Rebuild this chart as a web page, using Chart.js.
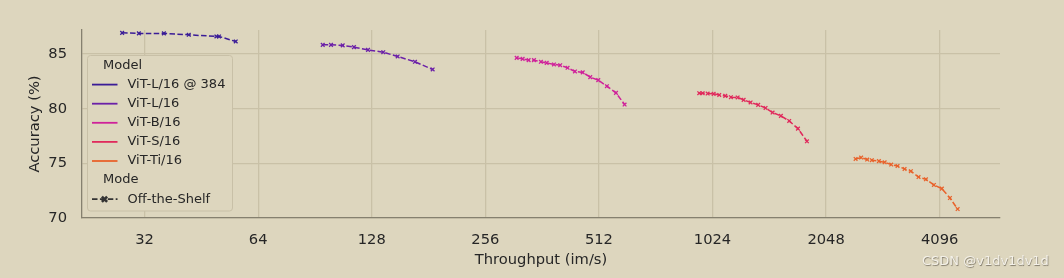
<!DOCTYPE html>
<html>
<head>
<meta charset="utf-8">
<script src="https://cdn.jsdelivr.net/npm/chart.js@4.4.1/dist/chart.umd.min.js"></script>
<style>
html,body{margin:0;padding:0;background:#ddd6be;}
#wrap{position:relative;width:1064px;height:278px;}
canvas{display:block;}
</style>
</head>
<body>
<div id="wrap"><canvas id="c" width="1064" height="278"></canvas></div>
<script>
// ---- data ----
const modelNames = ["ViT-L/16 @ 384", "ViT-L/16", "ViT-B/16", "ViT-S/16", "ViT-Ti/16"];
const modelColors = ["#3a1c97", "#6b20a8", "#cf219a", "#e02a5c", "#e8622b"];
const modeNames = ["Off-the-Shelf"];

const l384Throughput = [27.9, 30.9, 36.0, 41.9, 49.6, 50.4, 55.8];
const l384Accuracy   = [86.94, 86.89, 86.89, 86.76, 86.61, 86.61, 86.15];

const lThroughput = [94.9, 99.8, 107.2, 114.8, 125.1, 137.3, 149.9, 166.6, 185.6];
const lAccuracy   = [85.84, 85.84, 85.79, 85.63, 85.38, 85.17, 84.78, 84.29, 83.59];

const bThroughput = [309.9, 321.4, 333.4, 344.4, 359.3, 372.2, 389.1, 404.2, 422.8, 442.3, 463.7, 485.5, 509.9, 537.5, 568.1, 598.8];
const bAccuracy   = [84.65, 84.56, 84.44, 84.44, 84.29, 84.19, 84.05, 83.98, 83.74, 83.41, 83.32, 82.89, 82.61, 82.06, 81.45, 80.38];

const sThroughput = [944.3, 964.1, 993.9, 1031, 1066.8, 1106.6, 1145.6, 1193.5, 1238, 1291.7, 1353, 1415.4, 1477.4, 1554.1, 1634.9, 1724.6, 1821.7];
const sAccuracy   = [81.42, 81.42, 81.39, 81.36, 81.26, 81.17, 81.05, 81.03, 80.81, 80.57, 80.35, 80.07, 79.65, 79.34, 78.88, 78.18, 77.02];

const tiThroughput = [2452, 2536, 2631, 2707, 2826, 2927, 3047, 3167, 3306, 3435, 3600, 3766, 3954, 4150, 4360, 4570];
const tiAccuracy   = [75.40, 75.53, 75.35, 75.29, 75.20, 75.10, 74.89, 74.76, 74.49, 74.28, 73.75, 73.54, 73.02, 72.69, 71.83, 70.82];

const xTickValues = [32, 64, 128, 256, 512, 1024, 2048, 4096];
const yTickValues = [70, 75, 80, 85];

// ---- build ----
const seriesX = [l384Throughput, lThroughput, bThroughput, sThroughput, tiThroughput];
const seriesY = [l384Accuracy, lAccuracy, bAccuracy, sAccuracy, tiAccuracy];

const FONT = '"DejaVu Sans", "Liberation Sans", sans-serif';
const TXT = '#262626';
const BG = '#ddd6be';

const datasets = modelNames.map((name, i) => ({
  label: name,
  data: seriesX[i].map((x, j) => ({x: x, y: seriesY[i][j]})),
  borderColor: modelColors[i],
  backgroundColor: modelColors[i],
  borderWidth: 1.5,
  borderDash: [5.5, 2.4],
  pointStyle: 'crossRot',
  pointRadius: 2.6,
  pointBorderWidth: 1.3,
  pointBorderColor: modelColors[i],
  pointBackgroundColor: modelColors[i],
  tension: 0,
  fill: false
}));

const boxLegend = {
  id: 'boxLegend',
  afterDraw(chart) {
    const ctx = chart.ctx;
    ctx.save();
    // frame
    const x0 = 87.5, y0 = 55.5, w = 145, h = 155.5, r = 3;
    ctx.beginPath();
    ctx.moveTo(x0 + r, y0);
    ctx.lineTo(x0 + w - r, y0);
    ctx.quadraticCurveTo(x0 + w, y0, x0 + w, y0 + r);
    ctx.lineTo(x0 + w, y0 + h - r);
    ctx.quadraticCurveTo(x0 + w, y0 + h, x0 + w - r, y0 + h);
    ctx.lineTo(x0 + r, y0 + h);
    ctx.quadraticCurveTo(x0, y0 + h, x0, y0 + h - r);
    ctx.lineTo(x0, y0 + r);
    ctx.quadraticCurveTo(x0, y0, x0 + r, y0);
    ctx.closePath();
    ctx.fillStyle = BG;
    ctx.fill();
    ctx.strokeStyle = '#c8c0a7';
    ctx.lineWidth = 1;
    ctx.stroke();

    ctx.font = '13px ' + FONT;
    ctx.textBaseline = 'middle';
    ctx.textAlign = 'left';
    ctx.fillStyle = TXT;
    const y1 = 65.5, step = 19.1;
    ctx.fillText('Model', 103, y1);
    chart.data.datasets.forEach((ds, i) => {
      const yy = y1 + step * (i + 1);
      ctx.strokeStyle = ds.borderColor;
      ctx.lineWidth = 1.8;
      ctx.setLineDash([]);
      ctx.beginPath();
      ctx.moveTo(92, yy);
      ctx.lineTo(117.5, yy);
      ctx.stroke();
      ctx.fillStyle = TXT;
      ctx.fillText(ds.label, 127.5, yy);
    });
    const yMode = y1 + step * 6;
    ctx.fillText('Mode', 103, yMode);
    const yOff = y1 + step * 7;
    ctx.strokeStyle = '#333333';
    ctx.lineWidth = 1.8;
    ctx.setLineDash([5.5, 2.4]);
    ctx.beginPath();
    ctx.moveTo(92, yOff);
    ctx.lineTo(117.5, yOff);
    ctx.stroke();
    ctx.setLineDash([]);
    // filled X marker
    ctx.lineWidth = 2.6;
    const mx = 104.5, ms = 2.6;
    ctx.beginPath();
    ctx.moveTo(mx - ms, yOff - ms); ctx.lineTo(mx + ms, yOff + ms);
    ctx.moveTo(mx - ms, yOff + ms); ctx.lineTo(mx + ms, yOff - ms);
    ctx.stroke();
    ctx.fillStyle = TXT;
    ctx.fillText(modeNames[0], 127.5, yOff);

    // watermark
    ctx.font = '13px ' + FONT;
    ctx.shadowColor = 'rgba(60,55,45,0.55)';
    ctx.shadowOffsetX = 0.7;
    ctx.shadowOffsetY = 0.7;
    ctx.shadowBlur = 0.8;
    ctx.fillStyle = '#f4f1e9';
    ctx.fillText('CSDN @v1dv1dv1d', 922, 261.5);
    ctx.restore();
  }
};

new Chart(document.getElementById('c'), {
  type: 'line',
  data: { datasets: datasets },
  options: {
    responsive: false,
    animation: false,
    devicePixelRatio: 1,
    layout: { padding: { left: 0, right: 64, top: 30, bottom: 0 } },
    plugins: { legend: { display: false }, tooltip: { enabled: false } },
    scales: {
      x: {
        type: 'logarithmic',
        min: 21.84,
        max: 5918,
        afterBuildTicks: s => { s.ticks = xTickValues.map(v => ({ value: v })); },
        afterFit: s => { s.height = 60; },
        ticks: {
          callback: v => String(v),
          color: TXT,
          font: { family: FONT, size: 14.7 },
          padding: 13,
          maxRotation: 0,
          autoSkip: false
        },
        grid: { color: '#c9c1a7', lineWidth: 1.3, drawTicks: false },
        border: { display: true, color: '#85806f', width: 1.3 },
        title: {
          display: true,
          text: 'Throughput (im/s)',
          color: TXT,
          font: { family: FONT, size: 14.7 },
          padding: { top: 0, bottom: 9 }
        }
      },
      y: {
        type: 'linear',
        min: 70,
        max: 87.2,
        afterBuildTicks: s => { s.ticks = yTickValues.map(v => ({ value: v })); },
        afterFit: s => { s.width = 82; },
        ticks: {
          color: TXT,
          font: { family: FONT, size: 14.7 },
          padding: 15
        },
        grid: { color: '#c9c1a7', lineWidth: 1.3, drawTicks: false },
        border: { display: true, color: '#85806f', width: 1.3 },
        title: {
          display: true,
          text: 'Accuracy (%)',
          color: TXT,
          font: { family: FONT, size: 14.7 },
          padding: { top: 26, bottom: 0 }
        }
      }
    }
  },
  plugins: [boxLegend]
});
</script>
</body>
</html>
